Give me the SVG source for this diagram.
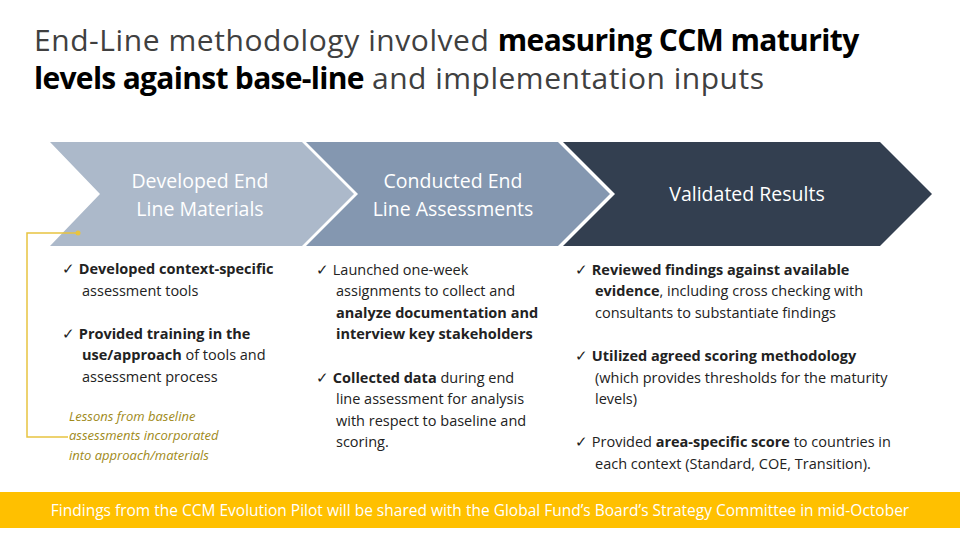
<svg xmlns="http://www.w3.org/2000/svg" width="960" height="540" viewBox="0 0 960 540">
<style>
text{font-family:"Open Sans","Liberation Sans",sans-serif}
.t{font-size:30px;fill:#404040}
.tb{font-weight:bold;fill:#000;letter-spacing:-1.2px}
.h{font-size:19.5px;fill:#fff;text-anchor:middle}
.b{font-size:14.5px;fill:#222}
.bb{font-weight:bold}
.it{font-size:13px;font-style:italic;fill:#a08a1a}
.f{font-size:15.5px;fill:#fff;text-anchor:middle}
</style>
<rect width="960" height="540" fill="#fff"/>
<text class="t" x="34" y="51" textLength="824">End-Line methodology involved <tspan class="tb">measuring CCM maturity</tspan></text>
<text class="t" x="34" y="89" textLength="730"><tspan class="tb">levels against base-line</tspan> and implementation inputs</text>
<g id="step1"><polygon points="50,142 302,142 354,194 302,246 50,246 100,194" fill="#acb9ca"/>
<text class="h" x="200" y="188">Developed End</text><text class="h" x="200" y="216">Line Materials</text></g>
<g id="step2"><polygon points="306,142 558,142 610,194 558,246 306,246 358,194" fill="#8497b0"/>
<text class="h" x="453" y="188">Conducted End</text><text class="h" x="453" y="216">Line Assessments</text></g>
<g id="step3"><polygon points="563,142 880,142 932,194 880,246 563,246 615,194" fill="#333f50"/>
<text class="h" x="747" y="201">Validated Results</text></g>
<g id="connectors"><polyline points="78,233 27,233 27,437 68,437" fill="none" stroke="#e8c440" stroke-width="1.5"/><circle cx="78" cy="233" r="2.5" fill="#e8c440"/></g>
<g id="col1" class="b">
<text x="62" y="274">✓ <tspan class="bb">Developed context-specific</tspan></text>
<text x="82" y="296">assessment tools</text>
<text x="62" y="339">✓ <tspan class="bb">Provided training in the</tspan></text>
<text x="82" y="360"><tspan class="bb">use/approach</tspan> of tools and</text>
<text x="82" y="382">assessment process</text>
<text class="it" x="69" y="421">Lessons from baseline</text>
<text class="it" x="69" y="440">assessments incorporated</text>
<text class="it" x="69" y="460">into approach/materials</text>
</g>
<g id="col2" class="b">
<text x="316" y="275">✓ Launched one-week</text>
<text x="336" y="296">assignments to collect and</text>
<text x="336" y="318" class="bb">analyze documentation and</text>
<text x="336" y="339" class="bb">interview key stakeholders</text>
<text x="316" y="383">✓ <tspan class="bb">Collected data</tspan> during end</text>
<text x="336" y="404">line assessment for analysis</text>
<text x="336" y="426">with respect to baseline and</text>
<text x="336" y="447">scoring.</text>
</g>
<g id="col3" class="b">
<text x="575" y="275">✓ <tspan class="bb">Reviewed findings against available</tspan></text>
<text x="595" y="296"><tspan class="bb">evidence</tspan>, including cross checking with</text>
<text x="595" y="318">consultants to substantiate findings</text>
<text x="575" y="361">✓ <tspan class="bb">Utilized agreed scoring methodology</tspan></text>
<text x="595" y="383">(which provides thresholds for the maturity</text>
<text x="595" y="404">levels)</text>
<text x="575" y="447">✓ Provided <tspan class="bb">area-specific score</tspan> to countries in</text>
<text x="595" y="469">each context (Standard, COE, Transition).</text>
</g>
<g id="footer"><rect x="0" y="492" width="960" height="36" fill="#ffc000"/>
<text class="f" x="480" y="516">Findings from the CCM Evolution Pilot will be shared with the Global Fund’s Board’s Strategy Committee in mid-October</text></g>
</svg>
